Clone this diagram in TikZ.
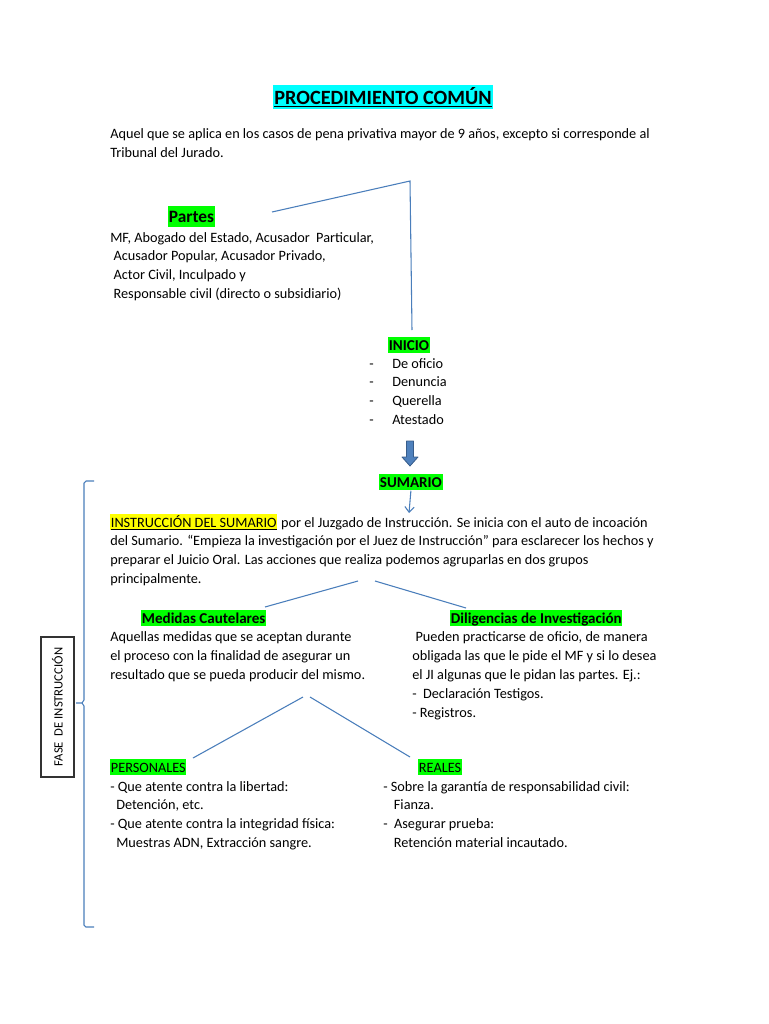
\documentclass[tikz,border=0pt]{standalone}
\usepackage{fontspec}
\setmainfont{Carlito}
\usetikzlibrary{arrows.meta,positioning}
\definecolor{markgreen}{RGB}{0,255,0}
\definecolor{markcyan}{RGB}{0,255,255}
\definecolor{markyellow}{RGB}{255,255,0}
\definecolor{linkblue}{RGB}{74,126,187}
\definecolor{arrowfill}{RGB}{79,129,189}
\definecolor{arrowedge}{RGB}{56,93,138}
\tikzset{
  body/.style={anchor=base west, inner sep=0pt, align=left,
    font=\fontsize{10.7}{14.1}\selectfont},
  hlbox/.style={anchor=base west, inner xsep=0.5pt, inner ysep=0pt,
    text height=10pt, text depth=2.6pt, font=\fontsize{10.7}{14.1}\selectfont},
  greenmark/.style={hlbox, fill=markgreen},
  boldmark/.style={greenmark, font=\fontsize{11.3}{14.1}\selectfont\bfseries},
  link/.style={draw=linkblue, line width=0.8pt},
  blockarrow/.style={fill=arrowfill, draw=arrowedge, line width=0.6pt, line join=round},
}
\begin{document}
\begin{tikzpicture}[x=0.75pt, y=-0.75pt]
  \fill[white] (0,0) rectangle (768,1024);
  \useasboundingbox (0,0) rectangle (768,1024);

  % titulo (multi-line nodes sit on their last baseline)
  \node[anchor=base, fill=markcyan, inner xsep=1pt, inner ysep=0pt,
    text height=14.2pt, text depth=3.8pt,
    font=\fontsize{15.2}{18}\selectfont\bfseries]
    (title) at (383,104) {\underline{PROCEDIMIENTO COMÚN}};
  \node[body] (intro) at (110,157)
    {Aquel que se aplica en los casos de pena privativa mayor de 9 años, excepto si corresponde al\\
     Tribunal del Jurado.};

  % partes
  \node[greenmark, text height=12pt, text depth=3.75pt,
    font=\fontsize{13}{16}\selectfont\bfseries] (partes) at (168,222) {Partes};
  \node[body] (parteslist) at (110,298.5)
    {MF, Abogado del Estado, Acusador\ \ Particular,\\
     \hspace*{2.5pt}Acusador Popular, Acusador Privado,\\
     \hspace*{2.5pt}Actor Civil, Inculpado y\\
     \hspace*{2.5pt}Responsable civil (directo o subsidiario)};
  \coordinate (partesfoot) at (272,212);
  \coordinate (topfork) at (410,181);
  \coordinate (iniciotop) at (412,330);
  \draw[link] (partesfoot) -- (topfork) -- (iniciotop);

  % inicio
  \node[boldmark] (inicio) at (388,350) {INICIO};
  \node[body] (iniciodash) at (369,424.5) {-\\-\\-\\-};
  \node[body] (iniciolist) at (392,424.5) {De oficio\\Denuncia\\Querella\\Atestado};
  \filldraw[blockarrow] (406.5,441) -- (413.5,441) -- (413.5,457) -- (418,457)
    -- (410,466) -- (402,457) -- (406.5,457) -- cycle;

  % sumario
  \node[boldmark] (sumario) at (379,487) {SUMARIO};
  \coordinate (paratop) at (409,513);
  \draw[link, -{Straight Barb[length=4pt,width=7pt]}] (sumario.south) -- (paratop);
  \node[hlbox, fill=markyellow] (instr) at (110,527) {\underline{INSTRUCCIÓN DEL SUMARIO}};
  \node[body] (instrrest) at (instr.base east)
    {\ por el Juzgado de Instrucción. Se inicia con el auto de incoación};
  \node[body] (instrpara) at (110,583.5)
    {del Sumario. “Empieza la investigación por el Juez de Instrucción” para esclarecer los hechos y\\
     preparar el Juicio Oral. Las acciones que realiza podemos agruparlas en dos grupos\\
     principalmente.};
  \coordinate (splitl) at (358,581);
  \coordinate (splitr) at (375,581);
  \coordinate (medidasfoot) at (265,607);
  \coordinate (diligfoot) at (466,608);
  \draw[link] (splitl) -- (medidasfoot);
  \draw[link] (splitr) -- (diligfoot);

  % medidas y diligencias
  \node[boldmark] (medidas) at (141,623) {Medidas Cautelares};
  \node[boldmark] (dilig) at (450,623) {Diligencias de Investigación};
  \node[body] (medidastext) at (110,679.5)
    {Aquellas medidas que se aceptan durante\\
     el proceso con la finalidad de asegurar un\\
     resultado que se pueda producir del mismo.};
  \node[body] (diligtext) at (412,717)
    {\hspace*{2.5pt}Pueden practicarse de oficio, de manera\\
     obligada las que le pide el MF y si lo desea\\
     el JI algunas que le pidan las partes. Ej.:\\
     -\ \ Declaración Testigos.\\
     - Registros.};
  \coordinate (splitml) at (303,697);
  \coordinate (splitmr) at (310,697);
  \coordinate (personalesfoot) at (193,758);
  \coordinate (realesfoot) at (410,757);
  \draw[link] (splitml) -- (personalesfoot);
  \draw[link] (splitmr) -- (realesfoot);

  % personales y reales
  \node[greenmark] (personales) at (110,772) {PERSONALES};
  \node[greenmark] (reales) at (418,772) {REALES};
  \node[body] (personaleslist) at (110,847.5)
    {- Que atente contra la libertad:\\
     \hspace*{4.5pt}Detención, etc.\\
     - Que atente contra la integridad física:\\
     \hspace*{4.5pt}Muestras ADN, Extracción sangre.};
  \node[body] (realeslist) at (383,847.5)
    {- Sobre la garantía de responsabilidad civil:\\
     \hspace*{8pt}Fianza.\\
     -\ \ Asegurar prueba:\\
     \hspace*{8pt}Retención material incautado.};

  % fase de instruccion
  \node[draw=black!80, line width=1.1pt, rotate=90, minimum width=105pt,
    minimum height=24.75pt, inner sep=0pt, font=\fontsize{9.5}{12}\selectfont]
    (fase) at (57.5,707) {FASE\ \ DE INSTRUCCIÓN};
  \draw[link] (94,481) -- (86,481) -- (84,483) -- (84,700) -- (82,703) -- (76,703)
    (82,703) -- (84,706) -- (84,925) -- (86,927) -- (94,927);
\end{tikzpicture}
\end{document}
